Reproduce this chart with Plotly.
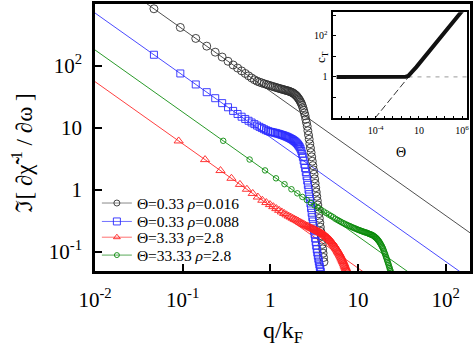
import numpy as np
import plotly.graph_objects as go

# ---------------- main panel data ----------------
# sampling grids in q/k_F (uniform steps, one per data set)
q_step_a, n_a = 0.047, 87     # Theta=0.33 rho=0.016
q_step_b, n_b = 0.047, 80     # Theta=0.33 rho=0.088
q_step_c, n_c = 0.09, 84      # Theta=3.33 rho=2.8
q_step_d, n_d = 0.29, 82      # Theta=33.33 rho=2.8

y_a = [819, 410, 273, 205, 164, 137, 117, 102, 91.0, 81.9, 74.5, 68.3, 63, 59, 56, 54,
       52.5, 51, 49.8, 48.6, 47.6, 46.6, 45.7, 44.9, 44.1, 43.4, 42.7, 42.1, 41.5, 40.9,
       40.4, 39.9, 39.4, 38.9, 38.4, 37.8, 37.2, 36.5, 35.7, 34.8, 33.8, 32.7, 31.6, 30.2,
       28.9, 27.5, 26.0, 24.5, 22.9, 20.9, 19.1, 17.2, 15.5, 13.6, 12.0, 10.5, 8.9, 7.6,
       6.5, 5.5, 4.7, 3.98, 3.39, 2.88, 2.45, 2.09, 1.78, 1.50, 1.27, 1.08, 0.92, 0.785,
       0.668, 0.569, 0.484, 0.412, 0.347, 0.295, 0.251, 0.214, 0.182, 0.155, 0.132, 0.112,
       0.0955, 0.0813, 0.0692]

y_b = [149, 74.5, 49.6, 37.2, 29.8, 24.8, 21.3, 18.6, 16.6, 15.0, 13.8, 12.9, 12.1, 11.4,
       10.8, 10.3, 9.85, 9.45, 9.1, 8.85, 8.62, 8.5, 8.37, 8.25, 8.13, 8.0, 7.88, 7.75,
       7.62, 7.5, 7.38, 7.25, 7.12, 6.98, 6.84, 6.7, 6.56, 6.42, 6.27, 6.1, 5.93, 5.75,
       5.55, 5.33, 5.1, 4.85, 4.57, 4.22, 3.80, 3.39, 2.95, 2.57, 2.24, 1.93, 1.66, 1.41,
       1.20, 1.01, 0.851, 0.716, 0.603, 0.507, 0.427, 0.363, 0.309, 0.263, 0.224, 0.193,
       0.166, 0.145, 0.126, 0.110, 0.0977, 0.0871, 0.0776, 0.070, 0.0631, 0.0575, 0.0525,
       0.0479]

y_c = [6.11, 3.06, 2.04, 1.53, 1.22, 1.02, 0.873, 0.764, 0.679, 0.623, 0.578, 0.535,
       0.498, 0.467, 0.440, 0.416, 0.395, 0.377, 0.363, 0.348, 0.335, 0.325, 0.314, 0.303,
       0.293, 0.284, 0.276, 0.268, 0.262, 0.257, 0.250, 0.244, 0.240, 0.235, 0.230, 0.226,
       0.221, 0.217, 0.213, 0.209, 0.206, 0.202, 0.198, 0.194, 0.190, 0.186, 0.181, 0.177,
       0.173, 0.169, 0.164, 0.160, 0.156, 0.152, 0.147, 0.143, 0.138, 0.134, 0.130, 0.125,
       0.120, 0.116, 0.1125, 0.108, 0.1034, 0.100, 0.0971, 0.0935, 0.0895, 0.0860, 0.0826,
       0.0794, 0.0762, 0.0731, 0.0701, 0.0667, 0.0639, 0.0611, 0.0584, 0.0558, 0.0535,
       0.0514, 0.0493, 0.0473]

y_d = [6.14, 3.07, 2.05, 1.53, 1.23, 1.02, 0.877, 0.767, 0.682, 0.614, 0.561, 0.517,
       0.479, 0.447, 0.421, 0.399, 0.379, 0.361, 0.342, 0.328, 0.316, 0.304, 0.294, 0.286,
       0.277, 0.271, 0.264, 0.259, 0.252, 0.248, 0.242, 0.238, 0.234, 0.229, 0.226, 0.223,
       0.219, 0.216, 0.214, 0.210, 0.208, 0.206, 0.204, 0.201, 0.199, 0.196, 0.193, 0.192,
       0.189, 0.187, 0.184, 0.181, 0.177, 0.173, 0.170, 0.1655, 0.1615, 0.1566, 0.1518,
       0.1473, 0.1419, 0.1366, 0.1315, 0.1256, 0.1208, 0.1153, 0.1099, 0.1038, 0.0979,
       0.0930, 0.0874, 0.0827, 0.0782, 0.0738, 0.0695, 0.0659, 0.0622, 0.0586, 0.0552,
       0.0522, 0.0493, 0.0464]

q_a = q_step_a * np.arange(1, n_a + 1)
q_b = q_step_b * np.arange(1, n_b + 1)
q_c = q_step_c * np.arange(1, n_c + 1)
q_d = q_step_d * np.arange(1, n_d + 1)

# 1/q asymptotes, given by their end points
asym_q = [0.01, 300]
asym_a = [3850, 0.128]
asym_b = [700, 0.0233]
asym_c = [55, 0.00183]
asym_d = [178, 0.00593]

labels = ["Θ=0.33 <i>ρ</i>=0.016", "Θ=0.33 <i>ρ</i>=0.088",
          "Θ=3.33 <i>ρ</i>=2.8", "Θ=33.33 <i>ρ</i>=2.8"]

x_tickvals = [0.01, 0.1, 1, 10, 100]
x_ticktext = ["10<sup>-2</sup>", "10<sup>-1</sup>", "1", "10", "10<sup>2</sup>"]
y_tickvals = [0.1, 1, 10, 100]
y_ticktext = ["10<sup>-1</sup>", "1", "10", "10<sup>2</sup>"]

# ---------------- inset data ----------------
theta_c = [3e-9, 1e-8, 1e-7, 1e-6, 1e-5, 1e-4, 1e-3, 1e-2, 0.1, 0.3, 0.6, 1, 2, 5, 10,
           100, 1e3, 1e4, 1e5, 1e6, 3e6]
c_T = [1, 1, 1, 1, 1, 1, 1, 1, 1, 1.03, 1.12, 1.35, 1.95, 3.0, 4.25,
       14, 46, 153, 508, 1690, 3000]
dash_theta = [7.94e-5, 3.16e6]
dash_c = [0.0093, 3020]
unit_theta = [0.63, 4e6]
unit_c = [1, 1]

in_x_tickvals = [10.0 ** k for k in range(-8, 7)]
in_x_ticktext = ["10<sup>-4</sup>" if k == -4 else "10" if k == 1 else
                 "10<sup>6</sup>" if k == 6 else "" for k in range(-8, 7)]
in_y_tickvals = [0.01, 0.1, 1, 10, 100, 1000]
in_y_ticktext = ["", "", "1", "", "10<sup>2</sup>", ""]

FONT = "Liberation Serif, Times New Roman, serif"
colors = ["#303030", "#2a2aff", "#ff2020", "#0a8a0a"]
line_colors = ["#505050", "#4a4aff", "#ff4040", "#2a9a2a"]
legend_line_colors = ["#8a8a8a", "#7070ff", "#ff7070", "#5aaa5a"]
symbols = ["circle-open", "square-open", "triangle-up-open", "circle-open"]
sizes = [8, 7, 8, 5.5]
legend_sizes = [6, 7, 6, 5]
legend_ids = ["legend", "legend2", "legend3", "legend4"]
legend_centres = [0.253, 0.184, 0.125, 0.058]   # vertical centre of each entry

fig = go.Figure()

for ay, lc in zip([asym_a, asym_b, asym_c, asym_d], line_colors):
    fig.add_trace(go.Scatter(x=asym_q, y=ay, mode="lines", showlegend=False,
                             line=dict(color=lc, width=1), hoverinfo="skip"))

for qq, yy, col, sym, sz in zip([q_a, q_b, q_c, q_d], [y_a, y_b, y_c, y_d],
                                colors, symbols, sizes):
    fig.add_trace(go.Scatter(x=qq, y=yy, mode="markers", showlegend=False,
                             marker=dict(symbol=sym, size=sz, color=col,
                                         line=dict(width=0.9, color=col))))

# legend entries (line + symbol), one small legend box per entry
for lab, col, lc, sym, sz, lid in zip(labels, colors, legend_line_colors, symbols,
                                      legend_sizes, legend_ids):
    fig.add_trace(go.Scatter(x=[None], y=[None], mode="lines+markers", name=lab,
                             legend=lid, line=dict(color=lc, width=1),
                             marker=dict(symbol=sym, size=sz, color=col,
                                         line=dict(width=0.9, color=col))))

# inset
fig.add_trace(go.Scatter(x=unit_theta, y=unit_c, mode="lines", xaxis="x2", yaxis="y2",
                         showlegend=False, line=dict(color="#9a9a9a", width=1, dash="4px,5px")))
fig.add_trace(go.Scatter(x=dash_theta, y=dash_c, mode="lines", xaxis="x2", yaxis="y2",
                         showlegend=False, line=dict(color="#333333", width=1, dash="7px,3px")))
fig.add_trace(go.Scatter(x=theta_c, y=c_T, mode="lines", xaxis="x2", yaxis="y2",
                         showlegend=False, line=dict(color="#111111", width=4)))

axis_common = dict(type="log", showgrid=False, zeroline=False, showline=True,
                   linecolor="black", mirror=True, ticks="inside", tickcolor="black")

legend_style = dict(x=0.005, xanchor="left", yanchor="middle",
                    bgcolor="rgba(0,0,0,0)", font=dict(size=15.5, family=FONT))

fig.update_layout(
    width=474, height=349,
    margin=dict(l=95, r=4, t=1, b=78),
    paper_bgcolor="white", plot_bgcolor="white",
    font=dict(family=FONT, color="black"),
    xaxis=dict(axis_common, range=[-2, 2.277], linewidth=2.5, ticklen=7, tickwidth=1.5,
               tickvals=x_tickvals, ticktext=x_ticktext, tickfont=dict(size=21),
               ticklabelstandoff=8, domain=[0, 1]),
    yaxis=dict(axis_common, range=[-1.307, 2.99], linewidth=2.5, ticklen=7, tickwidth=1.5,
               tickvals=y_tickvals, ticktext=y_ticktext, tickfont=dict(size=21),
               ticklabelstandoff=6, domain=[0, 1]),
    xaxis2=dict(axis_common, range=[-8.9, 6.6], linewidth=1.5, ticklen=3, tickwidth=1,
                tickvals=in_x_tickvals, ticktext=in_x_ticktext, tickfont=dict(size=10),
                domain=[0.6355, 0.9928], anchor="y2", ticklabelstandoff=2),
    yaxis2=dict(axis_common, range=[-2.03, 3.16], linewidth=1.5, ticklen=3, tickwidth=1,
                tickvals=in_y_tickvals, ticktext=in_y_ticktext, tickfont=dict(size=10),
                domain=[0.5715, 0.969], anchor="x2", ticklabelstandoff=2),
    annotations=[
        dict(text="q/k<sub>F</sub>", xref="paper", yref="paper", x=0.501, y=-0.228,
             xanchor="center", yanchor="middle", showarrow=False, font=dict(size=24)),
        dict(text="ℑ[ ∂χ\u0303<sup>-1</sup> / ∂ω ]", xref="paper", yref="paper",
             x=-0.192, y=0.44, xanchor="center", yanchor="middle", textangle=-90,
             showarrow=False, font=dict(size=23)),
        dict(text="Θ", xref="paper", yref="paper", x=0.816, y=0.444,
             xanchor="center", yanchor="middle", showarrow=False, font=dict(size=14)),
        dict(text="c<sub>T</sub>", xref="paper", yref="paper", x=0.6045, y=0.80,
             xanchor="center", yanchor="middle", textangle=-90, showarrow=False,
             font=dict(size=13)),
    ],
)

for lid, yc in zip(legend_ids, legend_centres):
    fig.update_layout({lid: dict(legend_style, y=yc)})

fig.write_html("out.html")
